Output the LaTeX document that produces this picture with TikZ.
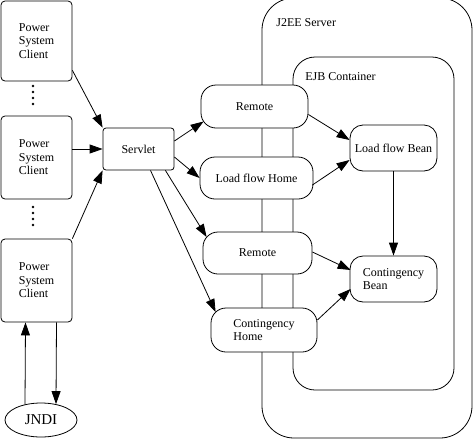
\documentclass[tikz,border=0pt]{standalone}
\usepackage{fontspec}
\setmainfont{Liberation Serif}
\usetikzlibrary{shapes.geometric, arrows.meta, positioning, calc}

\begin{document}
\begin{tikzpicture}[
        x=1pt, y=-1pt,
        font=\rmfamily\fontsize{12}{13.5}\selectfont,
        line width=0.8pt,
        client/.style={draw, rectangle, rounded corners=4pt, minimum width=71pt, minimum height=83pt, align=left, fill=white},
        servletbox/.style={draw, rectangle, rounded corners=3pt, minimum width=71pt, minimum height=42pt, fill=white},
        pill/.style={draw, rectangle, rounded corners=15pt, minimum height=43pt, align=left, fill=white},
        bean/.style={draw, rectangle, rounded corners=13pt, minimum width=87pt, minimum height=46pt, align=left, fill=white},
        container/.style={draw, rectangle, inner sep=0pt},
        label/.style={anchor=west, inner sep=0pt},
        arrow/.style={-{Stealth[length=13pt,width=9pt,inset=0pt]}}
    ]
        \useasboundingbox (0,0) rectangle (474,440);

        % Containers
        \node[container, rounded corners=32pt, minimum width=210pt, minimum height=440pt] (j2ee) at (367,218) {};
        \node[label] (j2eelabel) at (276,23) {J2EE Server};
        \node[container, rounded corners=22pt, minimum width=161pt, minimum height=333pt] (ejb) at (373.5,223.5) {};
        \node[label] (ejblabel) at (305,77) {EJB Container};

        % Nodes
        \node[client, minimum height=80pt] (psc1) at (36.5,41) {Power\\System\\Client};
        \node[client] (psc2) at (36.5,157.5) {Power\\System\\Client};
        \node[client] (psc3) at (36.5,280.5) {Power\\System\\Client};
        \node[draw, ellipse, minimum width=72pt, minimum height=34pt, inner sep=0pt, font=\rmfamily\fontsize{15}{18}\selectfont] (jndi) at (41,420) {JNDI};
        \node[servletbox] (servlet) at (138.5,149) {Servlet};
        \node[pill, minimum width=107pt] (remote1) at (254.5,106.5) {Remote};
        \node[pill, minimum width=113pt, minimum height=42pt] (lfhome) at (256.5,178) {Load flow Home};
        \node[pill, minimum width=109pt, minimum height=42pt] (remote2) at (257.5,253) {Remote};
        \node[pill, minimum width=106pt, minimum height=44pt] (chome) at (264,330) {Contingency\\Home};
        \node[bean] (lfbean) at (393.5,148) {Load flow Bean};
        \node[bean] (cbean) at (393.5,279) {Contingency\\Bean};

        % Dots between clients
        \foreach \y in {86,92,98,104} \fill (33,\y) circle (1.3pt);
        \foreach \y in {207,213,219,225} \fill (33,\y) circle (1.3pt);

        % Arrows
        \draw[arrow] ($(psc1.south east)+(0,-11)$) -- (servlet.north west);
        \draw[arrow] (psc2.east |- servlet.west) -- (servlet.west);
        \draw[arrow] (psc3.north east) -- (servlet.south west);
        \draw[arrow] ($(jndi.north)+(-16,2)$) -- ($(psc3.south)+(-11,0)$);
        \draw[arrow] ($(psc3.south)+(20,0)$) -- ($(jndi.north)+(15,1.5)$);
        \draw[arrow] ($(servlet.east)+(0,-8)$) -- ($(remote1.west)+(3,15)$);
        \draw[arrow] ($(servlet.east)+(0,8)$) -- (lfhome.west);
        \draw[arrow] ($(servlet.south east)+(-9,0)$) -- ($(remote2.west)+(4,-16)$);
        \draw[arrow] ($(servlet.south)+(12,0)$) -- ($(chome.west)+(5,-18)$);
        \draw[arrow] ($(remote1.east)+(0,8)$) -- ($(lfbean.west)+(0,-8)$);
        \draw[arrow] ($(lfhome.east)+(-1,7)$) -- ($(lfbean.west)+(0,12)$);
        \draw[arrow] ($(remote2.east)+(0,-1)$) -- ($(cbean.west)+(1,-9)$);
        \draw[arrow] ($(chome.east)+(0,-10)$) -- ($(cbean.west)+(1,10)$);
        \draw[arrow] (lfbean.south) -- (cbean.north);
    \end{tikzpicture}
\end{document}
